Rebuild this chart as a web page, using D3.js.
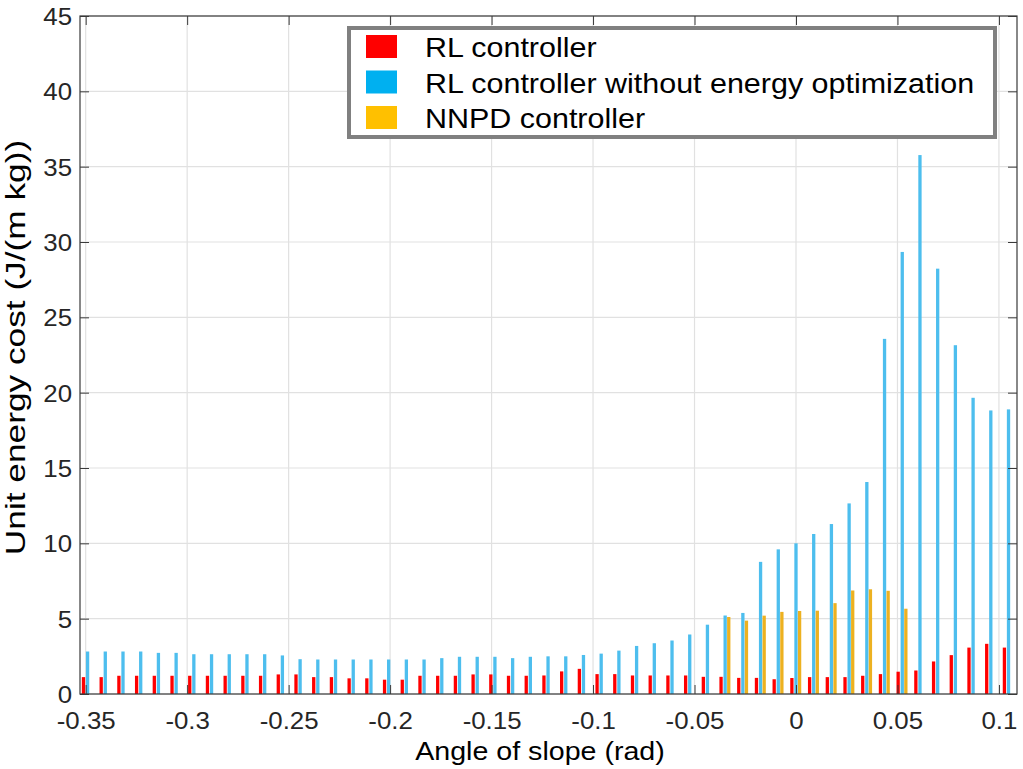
<!DOCTYPE html>
<html><head><meta charset="utf-8">
<script src="https://cdn.jsdelivr.net/npm/d3@7"></script>
<style>body{margin:0;background:#fff} text{font-family:"Liberation Sans",Arial,sans-serif}</style>
</head><body><svg id="c" width="1023" height="769"></svg>
<script>
// slope angles in degrees (converted to rad for the axis)
const anglesDeg = [-20,-19.5,-19,-18.5,-18,-17.5,-17,-16.5,-16,-15.5,-15,-14.5,-14,-13.5,-13,-12.5,-12,-11.5,-11,-10.5,-10,-9.5,-9,-8.5,-8,-7.5,-7,-6.5,-6,-5.5,-5,-4.5,-4,-3.5,-3,-2.5,-2,-1.5,-1,-0.5,0,0.5,1,1.5,2,2.5,3,3.5,4,4.5,5,5.5,6];
const rlController = [1.12,1.12,1.21,1.21,1.21,1.21,1.21,1.21,1.21,1.21,1.21,1.30,1.30,1.12,1.12,1.04,1.04,0.95,0.95,1.21,1.21,1.21,1.30,1.30,1.21,1.21,1.23,1.50,1.67,1.32,1.32,1.23,1.23,1.23,1.23,1.14,1.14,1.07,1.07,0.98,1.06,1.12,1.12,1.12,1.21,1.32,1.48,1.56,2.16,2.58,3.08,3.33,3.08];
const rlNoEnergyOpt = [2.82,2.82,2.82,2.82,2.73,2.73,2.64,2.64,2.64,2.64,2.64,2.56,2.31,2.29,2.29,2.29,2.29,2.29,2.29,2.29,2.38,2.47,2.47,2.47,2.38,2.47,2.50,2.50,2.59,2.68,2.88,3.19,3.37,3.55,3.95,4.60,5.21,5.38,8.77,9.60,10.00,10.62,11.28,12.65,14.07,23.57,29.34,35.77,28.23,23.15,19.66,18.82,18.89];
const nnpdDeg = [-2,-1.5,-1,-0.5,0,0.5,1,1.5,2,2.5,3];
const nnpdController = [5.11,4.87,5.20,5.45,5.51,5.53,6.03,6.87,6.95,6.85,5.66];
const xTicks = [-0.35,-0.3,-0.25,-0.2,-0.15,-0.1,-0.05,0,0.05,0.1];
const yTicks = [0,5,10,15,20,25,30,35,40,45];
const seriesNames = ["RL controller","RL controller without energy optimization","NNPD controller"];

const barColors = ["#ff0000","#4dbeee","#edb120"];
const legendColors = ["#ff0000","#00b0f0","#ffc000"];
const SX = 1.1; // horizontal text stretch of the reference

const svg = d3.select("#c");
svg.append("rect").attr("width",1023).attr("height",769).attr("fill","#fff");
const L=80,R=1017,T=16,B=694;
const x = d3.scaleLinear().domain([-0.3528,0.1089]).range([L,R]);
const y = d3.scaleLinear().domain([0,45]).range([B,T]);
const rad = d => d*Math.PI/180;

// grid
const g = svg.append("g");
g.selectAll(".vg").data(xTicks).join("line").attr("x1",d=>x(d)).attr("x2",d=>x(d)).attr("y1",T).attr("y2",B).attr("stroke","#e1e1e1").attr("stroke-width",1.2);
g.selectAll(".hg").data(yTicks).join("line").attr("x1",L).attr("x2",R).attr("y1",d=>y(d)).attr("y2",d=>y(d)).attr("stroke","#e1e1e1").attr("stroke-width",1.2);

// bars
const bw = 3.3;
const offs = [-4.1, 0, 3.6];
const series = [
  anglesDeg.map((a,i)=>({a, v:rlController[i]})),
  anglesDeg.map((a,i)=>({a, v:rlNoEnergyOpt[i]})),
  nnpdDeg.map((a,i)=>({a, v:nnpdController[i]}))
];
series.forEach((s,k)=>{
  svg.append("g").selectAll("rect").data(s).join("rect")
    .attr("x",d=>x(rad(d.a))+offs[k]-bw/2).attr("width",bw)
    .attr("y",d=>y(d.v)).attr("height",d=>y(0)-y(d.v))
    .attr("fill",barColors[k]);
});

// axes
const axCol="#3a3a3a";
const xa = svg.append("g").attr("transform",`translate(0,${B})`)
  .call(d3.axisBottom(x).tickValues(xTicks).tickSizeInner(-9).tickSizeOuter(0).tickPadding(0));
xa.select(".domain").remove();
xa.selectAll("line").attr("stroke",axCol);
xa.selectAll("text").attr("y",35).attr("dy",null).attr("transform",`scale(${SX},1)`).attr("font-size",23.5).attr("fill","#262626")
  .text(d=>String(d));
const xt = svg.append("g").attr("transform",`translate(0,${T})`)
  .call(d3.axisTop(x).tickValues(xTicks).tickSizeInner(-9).tickSizeOuter(0).tickFormat(""));
xt.select(".domain").remove(); xt.selectAll("line").attr("stroke",axCol);

const ya = svg.append("g").attr("transform",`translate(${L},0)`)
  .call(d3.axisLeft(y).tickValues(yTicks).tickSizeInner(-9).tickSizeOuter(0));
ya.select(".domain").remove();
ya.selectAll("line").attr("stroke",axCol);
ya.selectAll("text").attr("x",-8/SX).attr("dy","0.36em").attr("transform",`scale(${SX},1)`).attr("font-size",23.5).attr("fill","#262626");
const yr = svg.append("g").attr("transform",`translate(${R},0)`)
  .call(d3.axisRight(y).tickValues(yTicks).tickSizeInner(-9).tickSizeOuter(0).tickFormat(""));
yr.select(".domain").remove(); yr.selectAll("line").attr("stroke",axCol);

svg.append("rect").attr("x",L).attr("y",T).attr("width",R-L).attr("height",B-T).attr("fill","none").attr("stroke",axCol).attr("stroke-width",1.2);

// labels
svg.append("text").attr("transform",`translate(540,760) scale(${SX},1)`).attr("text-anchor","middle").attr("font-size",26).attr("fill","#000").text("Angle of slope (rad)");
svg.append("text").attr("transform",`translate(25,347.5) rotate(-90) scale(1.26,1)`).attr("text-anchor","middle").attr("font-size",28).attr("fill","#000").text("Unit energy cost (J/(m kg))");

// legend
const lg = svg.append("g");
lg.append("rect").attr("x",349).attr("y",28).attr("width",646).attr("height",109).attr("fill","#fff").attr("stroke","#808080").attr("stroke-width",4);
seriesNames.forEach((n,i)=>{
  const cy = 46.5 + i*35.5;
  lg.append("rect").attr("x",366).attr("y",cy-11.5).attr("width",31).attr("height",23).attr("fill",legendColors[i]);
  lg.append("text").attr("transform",`translate(425,${cy+10.5}) scale(${SX},1)`).attr("font-size",27.7).attr("fill","#000").text(n);
});
</script></body></html>
